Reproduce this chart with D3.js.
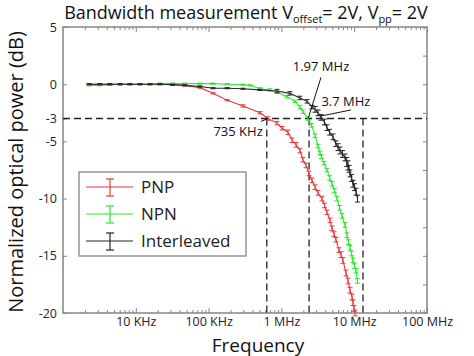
<!DOCTYPE html>
<html><head><meta charset="utf-8">
<script src="https://cdn.jsdelivr.net/npm/d3@7"></script>
<style>body{margin:0;background:#fff} text{font-family:"Open Sans",sans-serif;}</style>
</head><body>
<svg id="c" width="474" height="356"></svg>
<script>
// ---------- data ----------
const seriesNames = ["PNP", "NPN", "Interleaved"];
const seriesColors = ["#e8393a", "#2fe52f", "#262626"];

const freqPNP = [2.28e3,3.2e3,4.4e3,6.1e3,8.3e3,11.4e3,15.7e3,21.5e3,32e3,47e3,76e3,115e3,180e3,297e3,508e3,654e3,871e3,1.02e6,1.23e6,1.40e6,1.59e6,1.80e6,1.98e6,2.18e6,2.39e6,2.63e6,2.90e6,3.18e6,3.61e6,3.91e6,4.23e6,4.66e6,4.95e6,5.28e6,5.62e6,6.18e6,6.59e6,7.01e6,7.71e6,8.22e6,8.75e6,9.33e6,9.63e6,9.93e6,10.3e6];
const dbPNP   = [0,0,0,0,0,0,0,0,-0.05,-0.1,-0.3,-0.8,-1.4,-1.9,-2.5,-3.0,-3.4,-3.85,-4.2,-4.9,-5.3,-5.8,-6.6,-7.1,-7.8,-8.4,-9.0,-9.5,-10.0,-10.6,-11.2,-11.9,-12.6,-13.1,-13.6,-14.5,-14.9,-15.4,-16.5,-17.2,-18.0,-18.6,-19.1,-19.6,-20.0];
const errPNP  = [0.05,0.05,0.05,0.05,0.05,0.05,0.05,0.05,0.05,0.05,0.05,0.05,0.05,0.1,0.1,0.15,0.15,0.15,0.2,0.2,0.2,0.2,0.2,0.2,0.2,0.2,0.2,0.2,0.2,0.2,0.2,0.2,0.2,0.2,0.2,0.2,0.25,0.25,0.25,0.25,0.25,0.25,0.25,0.25,0.25];

const freqNPN = [2.28e3,3.2e3,4.4e3,6.1e3,8.3e3,11.4e3,15.7e3,21.5e3,32e3,47e3,76e3,115e3,180e3,297e3,371e3,508e3,697e3,871e3,1.19e6,1.54e6,1.80e6,1.98e6,2.32e6,2.60e6,2.90e6,3.18e6,3.39e6,3.55e6,3.85e6,4.23e6,4.6e6,4.95e6,5.35e6,5.8e6,6.3e6,6.8e6,7.48e6,7.96e6,8.35e6,8.75e6,9.2e6,9.63e6,10.1e6,10.6e6,11.1e6];
const dbNPN   = [-0.1,-0.1,-0.05,0,0,0,0,0.05,0.05,0.05,0.05,0.05,0,-0.05,-0.1,-0.4,-0.5,-0.7,-1.1,-1.5,-2.0,-2.4,-3.0,-3.6,-4.5,-5.4,-6.0,-6.35,-6.9,-7.5,-8.2,-8.7,-9.3,-10.0,-10.8,-11.5,-12.3,-13.2,-13.8,-14.3,-14.8,-15.4,-15.9,-16.3,-17.2];
const errNPN  = [0.05,0.05,0.05,0.05,0.05,0.05,0.05,0.05,0.05,0.05,0.05,0.05,0.05,0.05,0.05,0.1,0.1,0.1,0.1,0.1,0.15,0.15,0.15,0.15,0.15,0.15,0.15,0.15,0.15,0.15,0.2,0.2,0.2,0.2,0.2,0.2,0.2,0.2,0.2,0.2,0.2,0.2,0.2,0.2,0.2];

const freqInt = [2.28e3,3.2e3,4.4e3,6.1e3,8.3e3,11.4e3,15.7e3,21.5e3,32e3,47e3,76e3,115e3,180e3,297e3,508e3,871e3,1.31e6,1.80e6,2.25e6,2.63e6,2.9e6,3.18e6,3.5e6,3.9e6,4.23e6,4.6e6,5.11e6,5.6e6,6.0e6,6.38e6,6.9e6,7.48e6,7.9e6,8.22e6,8.5e6,8.75e6,9.2e6,9.63e6,10.1e6,10.6e6,11.1e6];
const dbInt   = [0,0,0,0,0,0,0,0,-0.05,-0.1,-0.2,-0.35,-0.35,-0.4,-0.5,-0.6,-0.8,-1.2,-1.5,-2.0,-2.2,-2.5,-2.9,-3.3,-3.8,-4.2,-4.6,-5.2,-5.5,-5.8,-6.1,-6.4,-6.8,-7.1,-7.4,-7.8,-8.2,-8.7,-9.0,-9.4,-10.0];
const errInt  = [0.05,0.05,0.05,0.05,0.05,0.05,0.05,0.05,0.05,0.05,0.05,0.05,0.05,0.05,0.05,0.15,0.15,0.15,0.15,0.15,0.25,0.25,0.25,0.25,0.25,0.25,0.25,0.25,0.3,0.3,0.3,0.3,0.4,0.4,0.3,0.3,0.3,0.3,0.3,0.3,0.3];

const xTickValues = [1e4, 1e5, 1e6, 1e7, 1e8];
const xTickLabels = ["10 KHz", "100 KHz", "1 MHz", "10 MHz", "100 MHz"];
const yTickValues = [5, 0, -3, -5, -10, -15, -20];
const yTickLabels = ["5", "0", "-3", "-5", "-10", "-15", "-20"];
const yRightTicks = [5, 2.5, 0, -2.5, -5, -7.5, -10, -12.5, -15, -17.5, -20];

// -3 dB reference level and marker frequencies (vertical dashed lines)
const refLevel = -3;
const bandwidthLines = [0.63e6, 2.4e6, 13.2e6];
const annoText = ["735 KHz", "1.97 MHz", "3.7 MHz"];
const annoTextPos = [[2.54e5, -4.55], [3.5e6, 1.15], [7.7e6, -1.9]];
const annoLine = [[[5.25e5, -3.25], [6.54e5, -3.0]], [[3.5e6, 0.6], [2.33e6, -3.0]], [[9.04e6, -2.25], [3.4e6, -2.8]]];

// ---------- drawing ----------
const svg = d3.select("#c");
const L = 63, R = 427, T = 27, B = 313;
const x = d3.scaleLog().domain([1e3, 1e8]).range([L, R]);
const y = d3.scaleLinear().domain([-20, 5]).range([B, T]);
const frameColor = "#858585";

const minorX = [];
for (let d = 1e3; d < 1e8; d *= 10) for (let m = 2; m <= 9; m++) minorX.push(d * m);

function styleAxis(g) {
  g.select(".domain").remove();
  g.selectAll(".tick line").attr("stroke", frameColor).attr("stroke-width", 1);
  g.selectAll(".tick text").attr("fill", "#222").style("font-size", "12.5px").style("font-family", "'Open Sans',sans-serif");
}
function noText(g) { g.selectAll(".tick text").remove(); }

// bottom axis
svg.append("g").attr("transform", `translate(0,${B})`)
  .call(d3.axisBottom(x).tickValues(minorX).tickSize(-3)).call(styleAxis).call(noText);
svg.append("g").attr("transform", `translate(0,${B})`)
  .call(d3.axisBottom(x).tickValues(xTickValues).tickFormat((d, i) => xTickLabels[i]).tickSize(-5).tickPadding(4)).call(styleAxis);
// top axis
svg.append("g").attr("transform", `translate(0,${T})`)
  .call(d3.axisTop(x).tickValues(minorX).tickSize(-3)).call(styleAxis).call(noText);
svg.append("g").attr("transform", `translate(0,${T})`)
  .call(d3.axisTop(x).tickValues(xTickValues).tickSize(-5)).call(styleAxis).call(noText);
// left axis
svg.append("g").attr("transform", `translate(${L},0)`)
  .call(d3.axisLeft(y).tickValues(yTickValues).tickFormat((d, i) => yTickLabels[i]).tickSize(-4).tickPadding(6)).call(styleAxis);
// right axis
svg.append("g").attr("transform", `translate(${R},0)`)
  .call(d3.axisRight(y).tickValues(yRightTicks).tickSize(-4)).call(styleAxis).call(noText);

// frame
svg.append("rect").attr("x", L).attr("y", T).attr("width", R - L).attr("height", B - T)
  .attr("fill", "none").attr("stroke", frameColor).attr("stroke-width", 1.5);

// dashed reference lines
svg.append("line").attr("x1", L).attr("x2", R).attr("y1", y(refLevel)).attr("y2", y(refLevel))
  .attr("stroke", "#222").attr("stroke-width", 1.3).attr("stroke-dasharray", "7,4");
svg.selectAll(".vline").data(bandwidthLines).enter().append("line")
  .attr("x1", d => x(d)).attr("x2", d => x(d)).attr("y1", y(refLevel)).attr("y2", B)
  .attr("stroke", "#222").attr("stroke-width", 1.3).attr("stroke-dasharray", "7,4");

// series
const series = [
  {f: freqPNP, v: dbPNP, e: errPNP},
  {f: freqNPN, v: dbNPN, e: errNPN},
  {f: freqInt, v: dbInt, e: errInt}
];
const line = d3.line().x(d => x(d.f)).y(d => y(d.v));
series.forEach((s, si) => {
  const pts = s.f.map((f, i) => ({f, v: s.v[i], e: s.e[i]}));
  const col = seriesColors[si];
  const g = svg.append("g");
  g.append("path").datum(pts).attr("d", line).attr("fill", "none").attr("stroke", col).attr("stroke-width", 1.1);
  const eb = g.selectAll(".eb").data(pts).enter().append("g");
  eb.append("line").attr("x1", d => x(d.f)).attr("x2", d => x(d.f))
    .attr("y1", d => y(d.v - d.e)).attr("y2", d => y(d.v + d.e)).attr("stroke", col).attr("stroke-width", 1);
  [-1, 1].forEach(sg => {
    eb.append("line").attr("x1", d => x(d.f) - 2.5).attr("x2", d => x(d.f) + 2.5)
      .attr("y1", d => y(d.v + sg * d.e)).attr("y2", d => y(d.v + sg * d.e)).attr("stroke", col).attr("stroke-width", 1);
  });
});

// annotations
annoText.forEach((t, i) => {
  svg.append("text").attr("x", x(annoTextPos[i][0])).attr("y", y(annoTextPos[i][1]))
    .attr("text-anchor", "middle").attr("fill", "#111").style("font-size", "13px").text(t);
  const ln = annoLine[i];
  svg.append("line").attr("x1", x(ln[0][0])).attr("y1", y(ln[0][1])).attr("x2", x(ln[1][0])).attr("y2", y(ln[1][1]))
    .attr("stroke", "#111").attr("stroke-width", 1);
});

// legend
const lg = svg.append("g").attr("transform", "translate(79,172)");
lg.append("rect").attr("width", 167).attr("height", 84).attr("fill", "#fff").attr("stroke", frameColor).attr("stroke-width", 1.3);
seriesNames.forEach((n, i) => {
  const yy = 15 + i * 27;
  const col = seriesColors[i];
  lg.append("line").attr("x1", 7).attr("x2", 54).attr("y1", yy).attr("y2", yy).attr("stroke", col).attr("stroke-width", 1.2);
  lg.append("line").attr("x1", 31).attr("x2", 31).attr("y1", yy - 8).attr("y2", yy + 9).attr("stroke", col).attr("stroke-width", 1.2);
  lg.append("line").attr("x1", 27).attr("x2", 35).attr("y1", yy - 8).attr("y2", yy - 8).attr("stroke", col).attr("stroke-width", 1.2);
  lg.append("line").attr("x1", 27).attr("x2", 35).attr("y1", yy + 9).attr("y2", yy + 9).attr("stroke", col).attr("stroke-width", 1.2);
  lg.append("text").attr("x", 62).attr("y", yy + 6).attr("fill", "#222").style("font-size", "17px").text(n);
});

// title
const title = svg.append("text").attr("x", 246).attr("y", 19).attr("text-anchor", "middle")
  .attr("fill", "#111").style("font-size", "18px");
title.append("tspan").text("Bandwidth measurement V");
title.append("tspan").attr("dy", 4).style("font-size", "11px").text("offset");
title.append("tspan").attr("dy", -4).text("= 2V, V");
title.append("tspan").attr("dy", 4).style("font-size", "11px").text("pp");
title.append("tspan").attr("dy", -4).text("= 2V");

// axis titles
svg.append("text").attr("x", 258).attr("y", 351.5).attr("text-anchor", "middle")
  .attr("fill", "#111").style("font-size", "19px").text("Frequency");
svg.append("text").attr("transform", `translate(23,${(T + B) / 2 + 2}) rotate(-90)`).attr("text-anchor", "middle")
  .attr("fill", "#111").style("font-size", "20px").text("Normalized optical power (dB)");
</script></body></html>
